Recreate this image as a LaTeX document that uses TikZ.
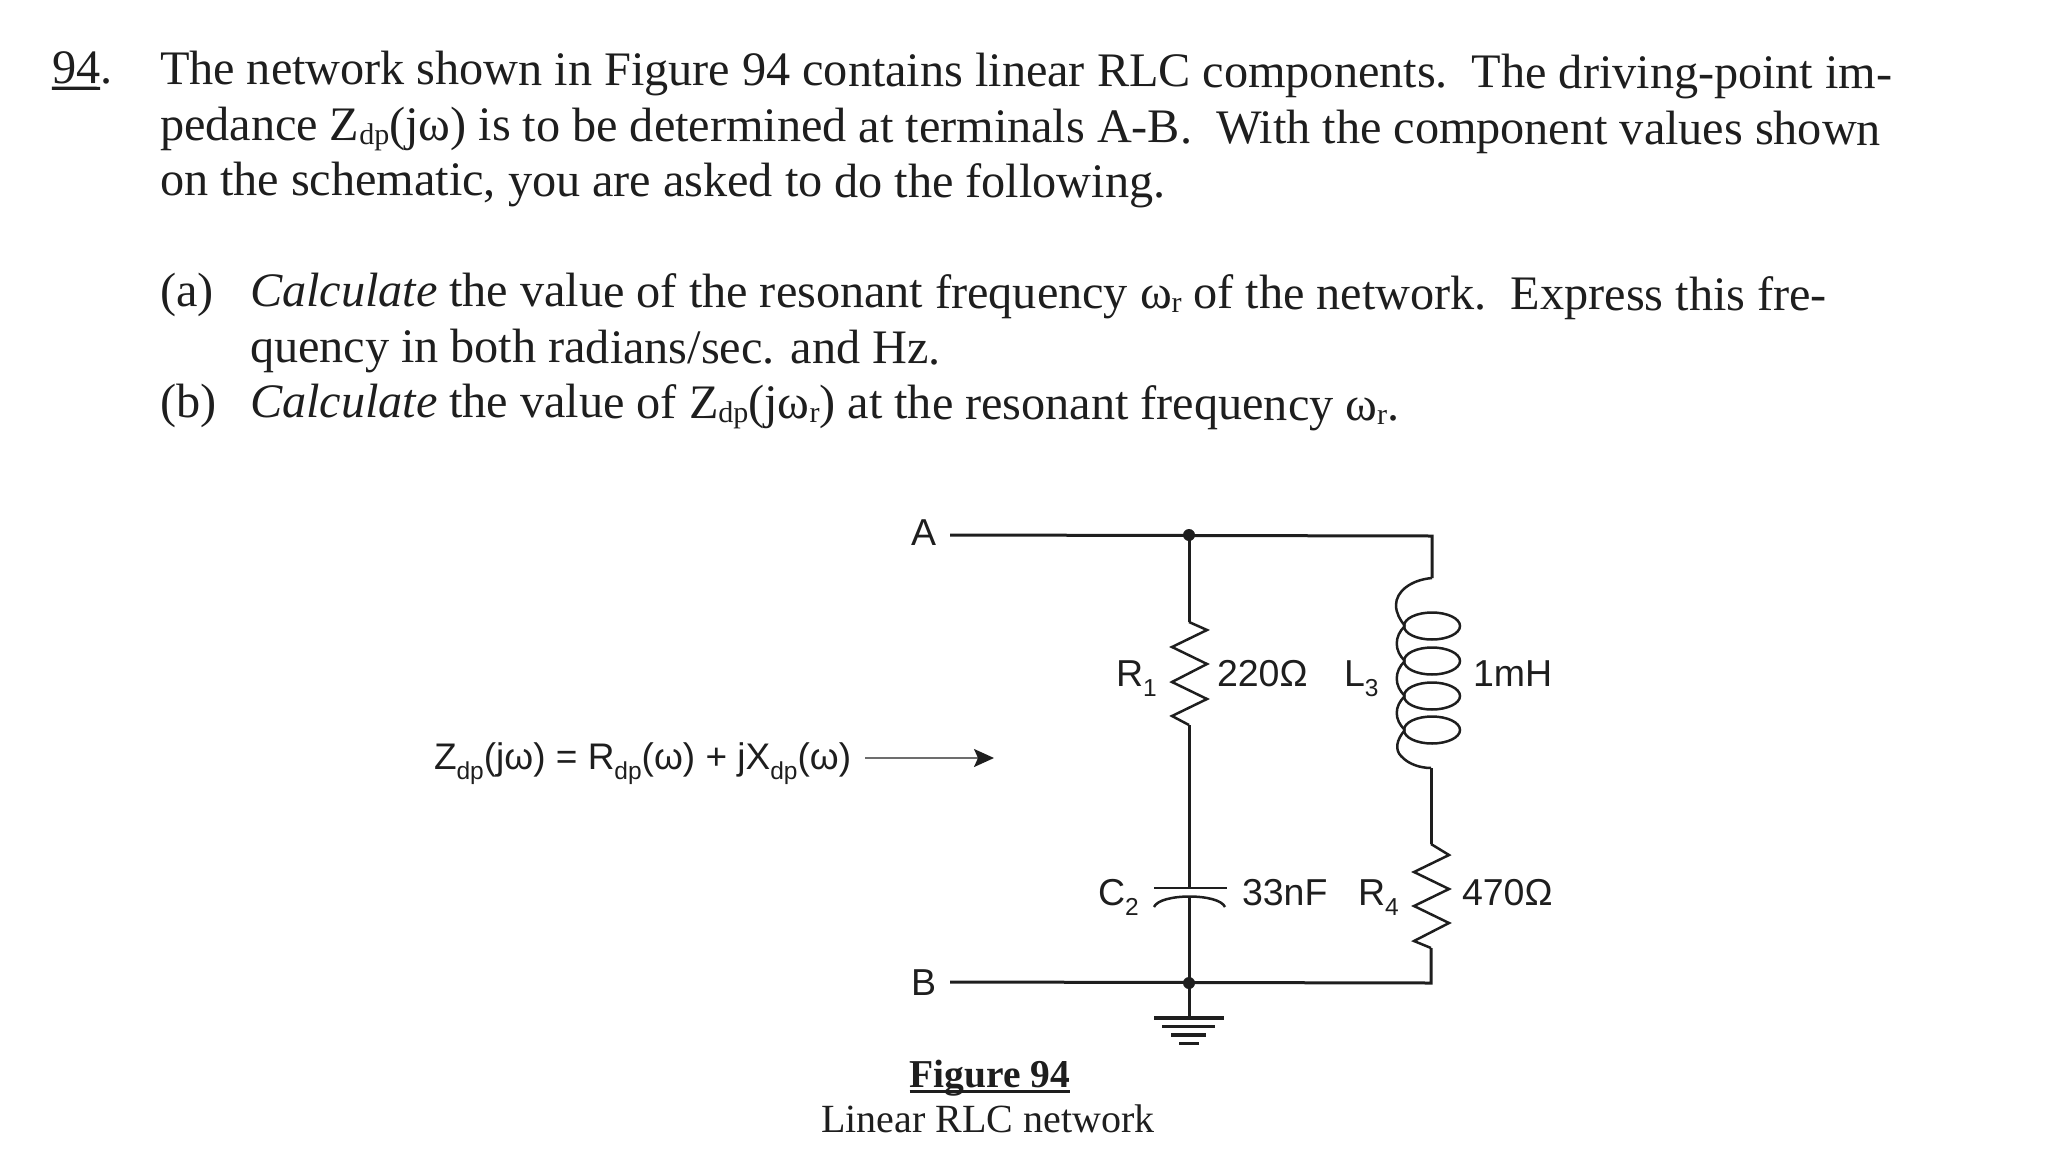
\documentclass[tikz,border=0pt]{standalone}
\usepackage{fontspec}
\setmainfont{Liberation Serif}
\newfontfamily\lblfont{Liberation Sans}
\usetikzlibrary{arrows.meta}
\definecolor{ink}{HTML}{1E1E1E}
\newcommand{\subs}[1]{\raisebox{-0.08em}{\fontsize{30}{30}\selectfont #1}}
\newcommand{\lsub}[1]{\raisebox{-0.28em}{\fontsize{24.5}{24.5}\selectfont #1}}
\newcommand{\thickul}[1]{\setbox0\hbox{#1}\rlap{\rule[-0.14em]{\wd0}{0.065em}}\box0}
\tikzset{
  body/.style={anchor=base west,inner sep=0pt,outer sep=0pt,text=ink,rotate=-0.17,font=\fontsize{48.2}{48.2}\selectfont},
  captxt/.style={anchor=base,inner sep=0pt,outer sep=0pt,text=ink,font=\fontsize{40}{40}\selectfont},
  lbl/.style={anchor=base west,inner sep=0pt,outer sep=0pt,text=ink,font=\lblfont\fontsize{37.5}{37.5}\selectfont},
  wire/.style={draw=ink,line width=3pt,line join=miter},
  comp/.style={draw=ink,line width=2.5pt,line join=miter},
  gndbar/.style={draw=ink,line width=3.2pt},
  dotj/.style={circle,fill=ink,inner sep=0pt,minimum size=12pt}
}
\begin{document}
\begin{tikzpicture}[x=1pt,y=-1pt]
\useasboundingbox (0,0) rectangle (2046,1173);
% text
\node[body] (n94) at (52,83) {\thickul{94}.};
\node[body] (t1) at (160,84) {The network shown in Figure 94 contains linear RLC components.\ \ The driving-point im-};
\node[body] (t2) at (160,140) {pedance Z\subs{dp}(jω) is to be determined at terminals A-B.\ \ With the component values shown};
\node[body] (t3) at (160,195) {on the schematic, you are asked to do the following.};
\node[body] (a1) at (160,306) {(a)};
\node[body] (a2) at (250,306) {\textit{Calculate} the value of the resonant frequency ω\subs{r} of the network.\ \ Express this fre-};
\node[body] (a3) at (250,362) {quency in both radians/sec. and Hz.};
\node[body] (b1) at (160,417) {(b)};
\node[body] (b2) at (250,417) {\textit{Calculate} the value of Z\subs{dp}(jω\subs{r}) at the resonant frequency ω\subs{r}.};
% labels
\node[lbl] (A) at (911,545) {A};
\node[lbl] (B) at (911,995) {B};
\node[lbl] (lr1) at (1116,686) {R\lsub{1}};
\node[lbl] (v220) at (1217,686) {220Ω};
\node[lbl] (ll3) at (1344,686) {L\lsub{3}};
\node[lbl] (v1m) at (1473,686) {1mH};
\node[lbl] (lc2) at (1098,905) {C\lsub{2}};
\node[lbl] (v33) at (1242,905) {33nF};
\node[lbl] (lr4) at (1358,905) {R\lsub{4}};
\node[lbl] (v470) at (1462,905) {470Ω};
\node[lbl,font=\lblfont\fontsize{37}{37}\selectfont] (zdp) at (434,769) {Z\lsub{dp}(jω) = R\lsub{dp}(ω) + jX\lsub{dp}(ω)};
\node[captxt,font=\bfseries\fontsize{39.5}{39.5}\selectfont] (fig) at (990,1087) {\thickul{Figure 94}};
\node[captxt] (figl) at (988,1132) {Linear RLC network};
% anchors
\coordinate (aL) at (950,535);
\coordinate (aJ) at (1189,535);
\coordinate (aR) at (1432,536);
\coordinate (bL) at (950,982);
\coordinate (bJ) at (1189,983);
\coordinate (bR) at (1431,983);
\coordinate (r1t) at (1189,622);
\coordinate (r1b) at (1189,725);
\coordinate (c2t) at (1189,888);
\coordinate (c2b) at (1189,896);
\coordinate (l3t) at (1432,578);
\coordinate (l3b) at (1431,768);
\coordinate (r4t) at (1431,844);
\coordinate (r4b) at (1431,948);
\coordinate (gnd) at (1189,1018);
\coordinate (arS) at (865,758);
\coordinate (arE) at (994,758);
% wires
\draw[wire] (aL) -- (aR) -- (l3t);
\draw[wire] (bL) -- (bR) -- (r4b);
\draw[wire] (aJ) -- (r1t);
\draw[wire] (r1b) -- (c2t);
\draw[wire] (c2b) -- (bJ) -- (gnd);
\draw[wire] (l3b) -- (r4t);
\node[dotj] (dA) at (aJ) {};
\node[dotj] (dB) at (bJ) {};
% R1
\draw[comp] (r1t) -- (1207,630) -- (1172,647) -- (1207,664) -- (1172,682) -- (1207,699) -- (1172,716) -- (r1b);
% R4
\draw[comp] (r4t) -- (1449,855) -- (1414,872) -- (1449,889) -- (1414,906) -- (1449,923) -- (1414,941) -- (r4b);
% L3
\draw[comp] (l3t) .. controls (1410,580) and (1396,592) .. (1396,605) .. controls (1396,613) and (1400,620) .. (1405,626);
\foreach \yy in {626,661,696,730}{
  \draw[comp] (1432,\yy) ellipse [x radius=28,y radius=13.5];
}
\foreach \ya/\yb in {626/661,661/696,696/730}{
  \draw[comp] (1405,\ya) .. controls (1394,\ya+10) and (1394,\yb-10) .. (1405,\yb);
}
\draw[comp] (1405,730) .. controls (1396,740) and (1395,750) .. (1401,756) .. controls (1408,764) and (1420,768) .. (l3b);
% C2
\draw[comp] (1154,888) -- (1227,888);
\draw[comp] (1154,907) .. controls (1160,893) and (1219,893) .. (1225,907);
% ground
\draw[gndbar] (1154,1018) -- (1224,1018);
\draw[gndbar] (1162,1026.5) -- (1215,1026.5);
\draw[gndbar] (1171,1035) -- (1206,1035);
\draw[gndbar] (1179,1043.5) -- (1199,1043.5);
% arrow
\draw[draw=ink!65,line width=2pt,-{Stealth[length=20pt,width=18pt,inset=4pt,color=ink]}] (arS) -- (arE);
\end{tikzpicture}
\end{document}
